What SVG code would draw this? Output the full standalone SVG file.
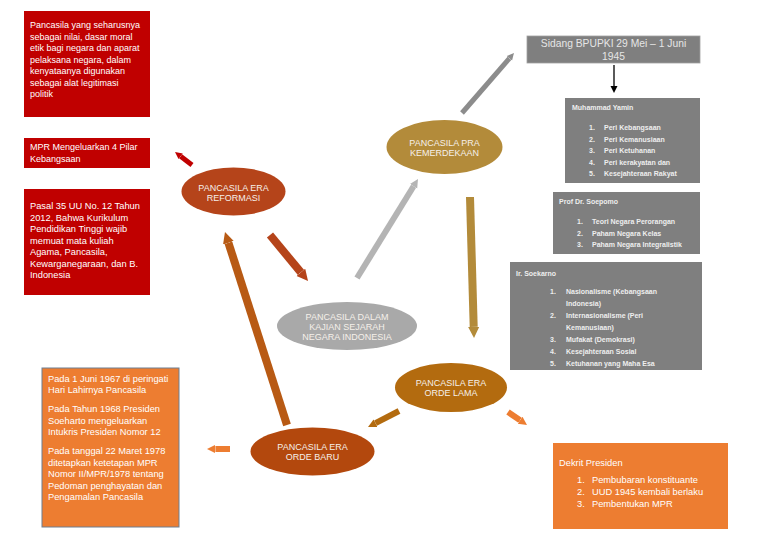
<svg xmlns="http://www.w3.org/2000/svg" width="768" height="543" viewBox="0 0 768 543">
<style>
text{font-family:"Liberation Sans",Arial,sans-serif;fill:#fff}
.t9{font-size:9px}
.t93{font-size:9.3px}
.sm{font-size:7px;font-weight:bold;fill:#eeeeee}
.el{font-size:9px;text-anchor:middle;fill:#f5f0ea}
.red{fill:#c00000}
.gry{fill:#7f7f7f}
.org{fill:#ed7d31}
.shaft{fill:none;stroke-linecap:butt}
</style>
<defs>
<marker id="hLg" viewBox="0 0 10 10" markerWidth="1.4" markerHeight="1.8" refX="0" refY="5" orient="auto"><path d="M0,0L10,5L0,10z" fill="#b4b4b4"/></marker>
<marker id="hDg" viewBox="0 0 10 10" markerWidth="1.4" markerHeight="1.8" refX="0" refY="5" orient="auto"><path d="M0,0L10,5L0,10z" fill="#8c8c8c"/></marker>
<marker id="hGd" viewBox="0 0 10 10" markerWidth="1.4" markerHeight="1.8" refX="0" refY="5" orient="auto"><path d="M0,0L10,5L0,10z" fill="#b38b3a"/></marker>
<marker id="hRb" viewBox="0 0 10 10" markerWidth="1.4" markerHeight="1.8" refX="0" refY="5" orient="auto"><path d="M0,0L10,5L0,10z" fill="#b5441a"/></marker>
<marker id="hRd" viewBox="0 0 10 10" markerWidth="1.4" markerHeight="1.8" refX="0" refY="5" orient="auto"><path d="M0,0L10,5L0,10z" fill="#c00000"/></marker>
<marker id="hOb" viewBox="0 0 10 10" markerWidth="1.4" markerHeight="1.8" refX="0" refY="5" orient="auto"><path d="M0,0L10,5L0,10z" fill="#b85a14"/></marker>
<marker id="hOl" viewBox="0 0 10 10" markerWidth="1.4" markerHeight="1.8" refX="0" refY="5" orient="auto"><path d="M0,0L10,5L0,10z" fill="#b36b0f"/></marker>
<marker id="hOr" viewBox="0 0 10 10" markerWidth="1.4" markerHeight="1.8" refX="0" refY="5" orient="auto"><path d="M0,0L10,5L0,10z" fill="#ed7d31"/></marker>
</defs>
<rect width="768" height="543" fill="#fff"/>

<g id="connectors">
<line class="shaft" x1="357" y1="278" x2="413.6" y2="186.2" stroke="#b4b4b4" stroke-width="6" marker-end="url(#hLg)"/>
<line class="shaft" x1="462" y1="113" x2="509.4" y2="58.3" stroke="#8c8c8c" stroke-width="5" marker-end="url(#hDg)"/>
<line class="shaft" x1="470" y1="197" x2="473.7" y2="326.8" stroke="#b38b3a" stroke-width="8" marker-end="url(#hGd)"/>
<line class="shaft" x1="270" y1="235" x2="300.9" y2="272.4" stroke="#b5441a" stroke-width="8" marker-end="url(#hRb)"/>
<line class="shaft" x1="192" y1="165" x2="180.6" y2="156.3" stroke="#c00000" stroke-width="5" marker-end="url(#hRd)"/>
<line class="shaft" x1="287" y1="425" x2="228.4" y2="242.7" stroke="#b85a14" stroke-width="8" marker-end="url(#hOb)"/>
<line class="shaft" x1="399" y1="411" x2="375.5" y2="423.2" stroke="#b36b0f" stroke-width="6" marker-end="url(#hOl)"/>
<line class="shaft" x1="508" y1="412" x2="520.1" y2="420.3" stroke="#ed7d31" stroke-width="6" marker-end="url(#hOr)"/>
<line class="shaft" x1="230" y1="449" x2="215.4" y2="449" stroke="#ed7d31" stroke-width="6" marker-end="url(#hOr)"/>
<line x1="614" y1="65" x2="614" y2="87" stroke="#000" stroke-width="1.3"/>
<polygon points="610.5,86 617.5,86 614,93" fill="#000"/>
</g>

<g id="box-politik">
<rect class="red" x="24" y="11" width="126" height="106"/>
<text class="t9"><tspan x="30" y="28">Pancasila yang seharusnya</tspan><tspan x="30" y="39.5">sebagai nilai, dasar moral</tspan><tspan x="30" y="51">etik bagi negara dan aparat</tspan><tspan x="30" y="62.5">pelaksana negara, dalam</tspan><tspan x="30" y="74">kenyataanya digunakan</tspan><tspan x="30" y="85.5">sebagai alat legitimasi</tspan><tspan x="30" y="97">politik</tspan></text>
</g>

<g id="box-mpr">
<rect class="red" x="24" y="138" width="126" height="30"/>
<text class="t9"><tspan x="30" y="150">MPR Mengeluarkan 4 Pilar</tspan><tspan x="30" y="162">Kebangsaan</tspan></text>
</g>

<g id="box-pasal">
<rect class="red" x="24" y="189" width="126" height="106"/>
<text class="t93"><tspan x="30" y="209">Pasal 35 UU No. 12 Tahun</tspan><tspan x="30" y="220.5">2012, Bahwa Kurikulum</tspan><tspan x="30" y="232">Pendidikan Tinggi wajib</tspan><tspan x="30" y="243.5">memuat mata kuliah</tspan><tspan x="30" y="255">Agama, Pancasila,</tspan><tspan x="30" y="266.5">Kewarganegaraan, dan B.</tspan><tspan x="30" y="278">Indonesia</tspan></text>
</g>

<g id="box-sidang">
<rect class="gry" x="527" y="36" width="173" height="27" stroke="#a0a0a0" stroke-width="0.8"/>
<text style="font-size:10.3px;fill:#e6e6e6" text-anchor="middle"><tspan x="613.5" y="47">Sidang BPUPKI 29 Mei – 1 Juni</tspan><tspan x="613.5" y="59.5">1945</tspan></text>
</g>

<g id="box-yamin">
<rect class="gry" x="565" y="98" width="135" height="85"/>
<text class="sm"><tspan x="572" y="110">Muhammad Yamin</tspan></text>
<text class="sm"><tspan x="589" y="130">1.</tspan><tspan x="589" y="141.5">2.</tspan><tspan x="589" y="153">3.</tspan><tspan x="589" y="164.5">4.</tspan><tspan x="589" y="176">5.</tspan></text>
<text class="sm"><tspan x="604" y="130">Peri Kebangsaan</tspan><tspan x="604" y="141.5">Peri Kemanusiaan</tspan><tspan x="604" y="153">Peri Ketuhanan</tspan><tspan x="604" y="164.5">Peri kerakyatan dan</tspan><tspan x="604" y="176">Kesejahteraan Rakyat</tspan></text>
</g>

<g id="box-soepomo">
<rect class="gry" x="553" y="192" width="147" height="62"/>
<text class="sm"><tspan x="559" y="204">Prof Dr. Soepomo</tspan></text>
<text class="sm"><tspan x="577" y="224">1.</tspan><tspan x="577" y="235.5">2.</tspan><tspan x="577" y="247">3.</tspan></text>
<text class="sm"><tspan x="592" y="224">Teori Negara Perorangan</tspan><tspan x="592" y="235.5">Paham Negara Kelas</tspan><tspan x="592" y="247">Paham Negara Integralistik</tspan></text>
</g>

<g id="box-soekarno">
<rect class="gry" x="510" y="262" width="192" height="108"/>
<text class="sm"><tspan x="516" y="276">Ir. Soekarno</tspan></text>
<text class="sm"><tspan x="550" y="294">1.</tspan><tspan x="550" y="318">2.</tspan><tspan x="550" y="342">3.</tspan><tspan x="550" y="354">4.</tspan><tspan x="550" y="366">5.</tspan></text>
<text class="sm"><tspan x="566" y="294">Nasionalisme (Kebangsaan</tspan><tspan x="566" y="306">Indonesia)</tspan><tspan x="566" y="318">Internasionalisme (Peri</tspan><tspan x="566" y="330">Kemanusiaan)</tspan><tspan x="566" y="342">Mufakat (Demokrasi)</tspan><tspan x="566" y="354">Kesejahteraan Sosial</tspan><tspan x="566" y="366">Ketuhanan yang Maha Esa</tspan></text>
</g>

<g id="box-ordebaru-notes">
<rect class="org" x="42" y="368" width="137" height="159" stroke="#6d7f91" stroke-width="1"/>
<text class="t93"><tspan x="48" y="381.5">Pada 1 Juni 1967 di peringati</tspan><tspan x="48" y="393">Hari Lahirnya Pancasila</tspan><tspan x="48" y="412">Pada Tahun 1968 Presiden</tspan><tspan x="48" y="423.5">Soeharto mengeluarkan</tspan><tspan x="48" y="435">Intukris Presiden Nomor 12</tspan><tspan x="48" y="454">Pada tanggal 22 Maret 1978</tspan><tspan x="48" y="465.5">ditetapkan ketetapan MPR</tspan><tspan x="48" y="477">Nomor II/MPR/1978 tentang</tspan><tspan x="48" y="488.5">Pedoman penghayatan dan</tspan><tspan x="48" y="500">Pengamalan Pancasila</tspan></text>
</g>

<g id="box-dekrit">
<rect class="org" x="553" y="443" width="175" height="86"/>
<text class="t93"><tspan x="559" y="465.5">Dekrit Presiden</tspan></text>
<text class="t93"><tspan x="577" y="483">1.</tspan><tspan x="577" y="495">2.</tspan><tspan x="577" y="507">3.</tspan></text>
<text class="t93"><tspan x="592" y="483">Pembubaran konstituante</tspan><tspan x="592" y="495">UUD 1945 kembali berlaku</tspan><tspan x="592" y="507">Pembentukan MPR</tspan></text>
</g>

<g id="node-pra">
<ellipse cx="444.5" cy="147" rx="58" ry="27" fill="#b38b3a"/>
<text class="el"><tspan x="444.5" y="145.5">PANCASILA PRA</tspan><tspan x="444.5" y="155.5">KEMERDEKAAN</tspan></text>
</g>

<g id="node-reformasi">
<ellipse cx="233.5" cy="191.5" rx="52" ry="24" fill="#b5441a"/>
<text class="el"><tspan x="233.5" y="190.5">PANCASILA ERA</tspan><tspan x="233.5" y="200.5">REFORMASI</tspan></text>
</g>

<g id="node-dalam">
<ellipse cx="347" cy="326" rx="70" ry="24" fill="#a9a9a9"/>
<text class="el"><tspan x="347" y="319.5">PANCASILA DALAM</tspan><tspan x="347" y="329.5">KAJIAN SEJARAH</tspan><tspan x="347" y="339.5">NEGARA INDONESIA</tspan></text>
</g>

<g id="node-ordelama">
<ellipse cx="451" cy="387.5" rx="56" ry="24.5" fill="#b36b0f"/>
<text class="el"><tspan x="451" y="385.5">PANCASILA ERA</tspan><tspan x="451" y="395.5">ORDE LAMA</tspan></text>
</g>

<g id="node-ordebaru">
<ellipse cx="312.5" cy="451.5" rx="62" ry="24" fill="#b3480d"/>
<text class="el"><tspan x="312.5" y="449.5">PANCASILA ERA</tspan><tspan x="312.5" y="459.5">ORDE BARU</tspan></text>
</g>
</svg>
